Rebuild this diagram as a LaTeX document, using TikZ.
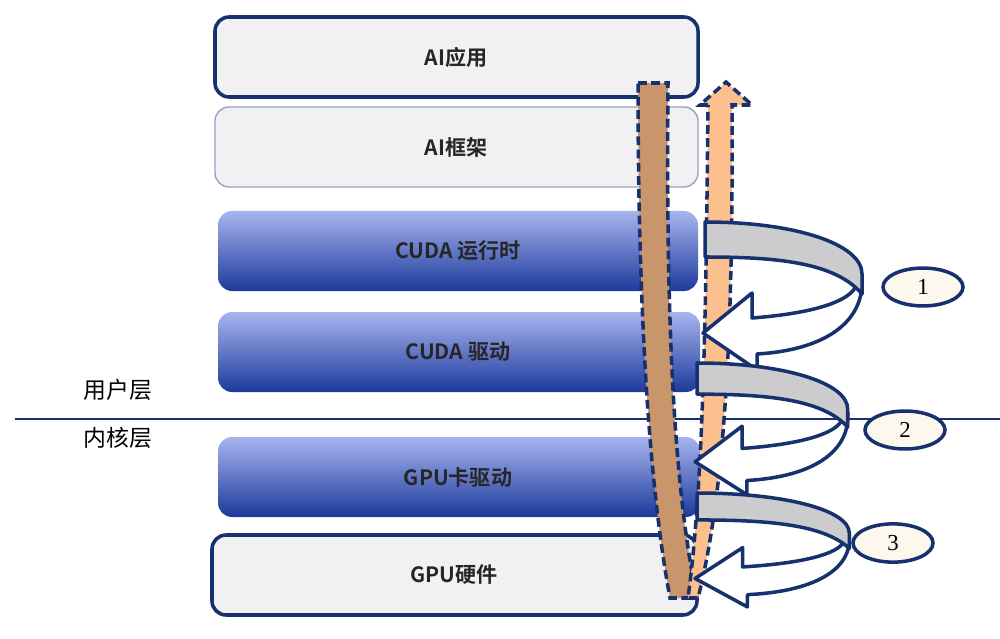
\documentclass[tikz,border=0pt]{standalone}
\usepackage{fontspec}
\usetikzlibrary{shapes.geometric}
\setmainfont{Liberation Serif}
\newfontfamily\cjk{Noto Sans CJK SC}[BoldFont={Noto Sans CJK SC Bold}]
\definecolor{navy}{HTML}{17306E}
\definecolor{lightbox}{HTML}{F1F1F4}
\definecolor{brownbar}{HTML}{C8966A}
\definecolor{orangebar}{HTML}{FCC08E}
\definecolor{loopgray}{HTML}{CCCCCE}
\definecolor{ovalfill}{HTML}{FDF8EE}
\begin{document}
\begin{tikzpicture}[x=0.2mm,y=-0.2mm,
  lbl/.style={font=\cjk\bfseries\fontsize{12}{14}\selectfont,text=black!85},
  plainbox/.style={rounded corners=8pt,fill=lightbox,draw=navy,line width=2pt},
  thinbox/.style={rounded corners=8pt,fill=lightbox,draw=navy!45,line width=0.8pt},
  bluebox/.style={rounded corners=8pt,top color={rgb,255:red,168;green,180;blue,238},bottom color={rgb,255:red,28;green,58;blue,156},draw=none},
  dashband/.style={draw=navy,line width=2pt,dash pattern=on 5pt off 2.5pt},
  loopline/.style={draw=navy,line width=2pt,line join=round},
  oval/.style={ellipse,draw=navy,line width=2pt,fill=ovalfill,minimum width=16mm,minimum height=7mm,font=\fontsize{13}{15}\selectfont}]
\useasboundingbox (0,0) rectangle (1000,639);
% layer line
\draw[navy,line width=1.6pt] (15,419) coordinate (l0) -- (1000,419) coordinate (l1);
\node[font=\cjk\fontsize{13}{15}\selectfont] (user) at (118,390) {用户层};
\node[font=\cjk\fontsize{13}{15}\selectfont] (kern) at (118,438) {内核层};
% boxes
\draw[plainbox] (215,17) rectangle (698,97);
\node[lbl] (app) at (456,57) {AI应用};
\draw[thinbox] (215,107) rectangle (698,187);
\node[lbl] (fw) at (456,147) {AI框架};
\shade[bluebox] (218,211) rectangle (698,291);
\node[lbl] (rt) at (458,251) {CUDA 运行时};
\shade[bluebox] (218,312) rectangle (700,392);
\node[lbl] (drv) at (458,352) {CUDA 驱动};
\shade[bluebox] (218,437) rectangle (700,517);
\node[lbl] (gdrv) at (458,477) {GPU卡驱动};
\draw[plainbox] (212,535) rectangle (697,615);
\node[lbl] (hw) at (454,575) {GPU硬件};
% brown bar
\draw[dashband,fill=brownbar] (638,83) -- (668,83) .. controls (666,300) and (672,480) .. (697,598) -- (670,598) .. controls (648,480) and (638,300) .. (638,83) -- cycle;
% orange arrow
\draw[dashband,fill=orangebar] (708,105) -- (700,105) -- (726,82) -- (752,105) -- (732,105) .. controls (733,300) and (728,480) .. (698,598) -- (688,598) .. controls (704,480) and (706,300) .. (708,105) -- cycle;
% loops
\foreach \ox/\oy/\sx/\sy in {705/222/1/1, 697/363/0.96/0.89, 697/493/0.97/0.77}{
\begin{scope}[shift={(\ox,\oy)},xscale=\sx,yscale=\sy]
  \draw[loopline,fill=white] (157,55) .. controls (160,100) and (120,128) .. (52,132) -- (52,148) -- (-2,111) -- (47,71) -- (47,96) .. controls (100,92) and (140,82) .. (150,66) -- cycle;
  \draw[loopline,fill=loopgray] (0,0) .. controls (90,0) and (157,22) .. (157,52) -- (157,72) .. controls (130,40) and (70,35) .. (0,35) -- cycle;
\end{scope}}
\node[oval] (o1) at (923,287) {1};
\node[oval] (o2) at (905,430) {2};
\node[oval] (o3) at (893,543) {3};
\end{tikzpicture}
\end{document}
